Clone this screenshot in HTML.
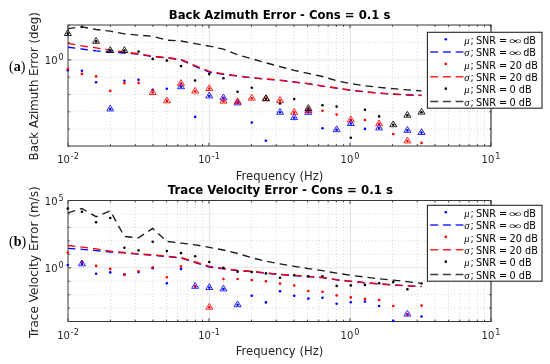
<!DOCTYPE html>
<html><head><meta charset="utf-8"><title>Error plots</title><style>
html,body{margin:0;padding:0;background:#fff;width:550px;height:364px;overflow:hidden}
svg{display:block}
.tk{font-family:"DejaVu Sans",sans-serif;font-size:10px;fill:#262626}
.sp{font-size:8.1px}
.lb{font-family:"DejaVu Sans",sans-serif;font-size:11.6px;fill:#262626}
.tt{font-family:"DejaVu Sans",sans-serif;font-size:11.6px;font-weight:bold;fill:#000}
.tag{font-family:"Liberation Serif",serif;font-size:14px;font-weight:bold;fill:#000}
.lg{font-family:"DejaVu Sans",sans-serif;font-size:9.7px;fill:#000}
.gr{font-family:"Liberation Serif",serif;font-style:italic;font-size:10.5px}
.inf{font-family:"Liberation Serif",serif}
</style></head><body>
<svg width="550" height="364" viewBox="0 0 550 364">
<rect width="550" height="364" fill="#fff"/>
<clipPath id="c1"><rect x="68.0" y="25.0" width="423.0" height="121.0"/></clipPath>
<path d="M110.45 25V146M135.27 25V146M152.89 25V146M166.55 25V146M177.72 25V146M187.16 25V146M195.34 25V146M202.55 25V146M251.45 25V146M276.27 25V146M293.89 25V146M307.55 25V146M318.72 25V146M328.16 25V146M336.34 25V146M343.55 25V146M392.45 25V146M417.27 25V146M434.89 25V146M448.55 25V146M459.72 25V146M469.16 25V146M477.34 25V146M484.55 25V146M68 129.1H491M68 111.8H491M68 94.5H491M68 77.2H491M68 42.6H491" stroke="#c4c4c4" stroke-width="0.8" stroke-dasharray="0.9 2.4" fill="none"/>
<path d="M209.3 25V146M350.5 25V146M68 59.9H491" stroke="#e0e0e0" stroke-width="0.9" fill="none"/>
<path d="M68 146v-3.2M68 25v3.2M209 146v-3.2M209 25v3.2M350 146v-3.2M350 25v3.2M491 146v-3.2M491 25v3.2M110.45 146v-1.8M110.45 25v1.8M135.27 146v-1.8M135.27 25v1.8M152.89 146v-1.8M152.89 25v1.8M166.55 146v-1.8M166.55 25v1.8M177.72 146v-1.8M177.72 25v1.8M187.16 146v-1.8M187.16 25v1.8M195.34 146v-1.8M195.34 25v1.8M202.55 146v-1.8M202.55 25v1.8M251.45 146v-1.8M251.45 25v1.8M276.27 146v-1.8M276.27 25v1.8M293.89 146v-1.8M293.89 25v1.8M307.55 146v-1.8M307.55 25v1.8M318.72 146v-1.8M318.72 25v1.8M328.16 146v-1.8M328.16 25v1.8M336.34 146v-1.8M336.34 25v1.8M343.55 146v-1.8M343.55 25v1.8M392.45 146v-1.8M392.45 25v1.8M417.27 146v-1.8M417.27 25v1.8M434.89 146v-1.8M434.89 25v1.8M448.55 146v-1.8M448.55 25v1.8M459.72 146v-1.8M459.72 25v1.8M469.16 146v-1.8M469.16 25v1.8M477.34 146v-1.8M477.34 25v1.8M484.55 146v-1.8M484.55 25v1.8M68 146.4h1.8M491 146.4h-1.8M68 129.1h1.8M491 129.1h-1.8M68 111.8h1.8M491 111.8h-1.8M68 94.5h1.8M491 94.5h-1.8M68 77.2h1.8M491 77.2h-1.8M68 59.9h3.2M491 59.9h-3.2M68 42.6h1.8M491 42.6h-1.8M68 25.3h1.8M491 25.3h-1.8" stroke="#262626" stroke-width="0.9" fill="none"/>
<path d="M68.0 25.0H491.0V146.0H68.0" fill="none" stroke="#383838" stroke-width="1.2"/>
<path d="M68.0 24.4V146.6" fill="none" stroke="#5a5a5a" stroke-width="1.2"/>
<g fill="#0000ff"><circle cx="67.8" cy="70.2" r="1.3"/><circle cx="81.95" cy="70.7" r="1.3"/><circle cx="96.1" cy="82.2" r="1.3"/><circle cx="110.25" cy="109" r="1.3"/><circle cx="124.4" cy="80.7" r="1.3"/><circle cx="138.55" cy="79.8" r="1.3"/><circle cx="152.7" cy="89.8" r="1.3"/><circle cx="166.85" cy="88.7" r="1.3"/><circle cx="181" cy="86.8" r="1.3"/><circle cx="195.15" cy="116.9" r="1.3"/><circle cx="209.3" cy="96" r="1.3"/><circle cx="223.45" cy="97.9" r="1.3"/><circle cx="237.6" cy="103" r="1.3"/><circle cx="251.75" cy="122.5" r="1.3"/><circle cx="265.9" cy="140.8" r="1.3"/><circle cx="280.05" cy="112.3" r="1.3"/><circle cx="294.2" cy="117.7" r="1.3"/><circle cx="308.35" cy="112.4" r="1.3"/><circle cx="322.5" cy="128.2" r="1.3"/><circle cx="336.65" cy="129.8" r="1.3"/><circle cx="350.8" cy="123.6" r="1.3"/><circle cx="364.95" cy="128.9" r="1.3"/><circle cx="379.1" cy="128" r="1.3"/><circle cx="407.4" cy="130.4" r="1.3"/><circle cx="421.55" cy="132.6" r="1.3"/></g>
<polyline clip-path="url(#c1)" points="67.8,47.2 81.95,49 96.1,50.9 110.25,52.1 124.4,53 138.55,54.2 152.7,56.6 166.85,57.9 181,59.9 195.15,66.4 209.3,72.1 223.45,74.3 237.6,76.1 251.75,77.9 265.9,79.1 280.05,80.4 294.2,82.1 308.35,83.8 322.5,86.2 336.65,88.2 350.8,90.3 364.95,91.9 379.1,93.3 393.25,94.2 407.4,95 421.55,95.5" fill="none" stroke="#0000ff" stroke-width="1.35" stroke-dasharray="7.6 5.1" stroke-dashoffset="0"/>
<g fill="#ff0000"><circle cx="67.8" cy="68.8" r="1.3"/><circle cx="81.95" cy="73.9" r="1.3"/><circle cx="96.1" cy="76.4" r="1.3"/><circle cx="110.25" cy="90.9" r="1.3"/><circle cx="124.4" cy="83.2" r="1.3"/><circle cx="138.55" cy="82.9" r="1.3"/><circle cx="152.7" cy="92.6" r="1.3"/><circle cx="166.85" cy="100.9" r="1.3"/><circle cx="181" cy="83.5" r="1.3"/><circle cx="195.15" cy="91.2" r="1.3"/><circle cx="209.3" cy="88.6" r="1.3"/><circle cx="223.45" cy="101.2" r="1.3"/><circle cx="237.6" cy="101.8" r="1.3"/><circle cx="251.75" cy="98.2" r="1.3"/><circle cx="265.9" cy="98.8" r="1.3"/><circle cx="280.05" cy="100.5" r="1.3"/><circle cx="294.2" cy="112.4" r="1.3"/><circle cx="308.35" cy="110.5" r="1.3"/><circle cx="322.5" cy="110.7" r="1.3"/><circle cx="336.65" cy="114.6" r="1.3"/><circle cx="350.8" cy="119.9" r="1.3"/><circle cx="364.95" cy="120" r="1.3"/><circle cx="379.1" cy="123.9" r="1.3"/><circle cx="393.25" cy="134.1" r="1.3"/><circle cx="407.4" cy="141" r="1.3"/><circle cx="421.55" cy="142.9" r="1.3"/></g>
<polyline clip-path="url(#c1)" points="67.8,43.3 81.95,45.9 96.1,47.9 110.25,50.2 124.4,52 138.55,53.8 152.7,56.2 166.85,57.6 181,59.4 195.15,65.7 209.3,71.4 223.45,73.9 237.6,75.8 251.75,77.7 265.9,78.9 280.05,80.2 294.2,81.9 308.35,83.6 322.5,86 336.65,88 350.8,90.1 364.95,91.7 379.1,93.1 393.25,94 407.4,94.8 421.55,95.3" fill="none" stroke="#ff0000" stroke-width="1.35" stroke-dasharray="7.6 5.1" stroke-dashoffset="0"/>
<g fill="#000000"><circle cx="67.8" cy="33.6" r="1.3"/><circle cx="81.95" cy="26.9" r="1.3"/><circle cx="96.1" cy="41.4" r="1.3"/><circle cx="110.25" cy="50.6" r="1.3"/><circle cx="124.4" cy="50.6" r="1.3"/><circle cx="138.55" cy="51.6" r="1.3"/><circle cx="152.7" cy="58.9" r="1.3"/><circle cx="166.85" cy="60.6" r="1.3"/><circle cx="181" cy="66.1" r="1.3"/><circle cx="195.15" cy="80.5" r="1.3"/><circle cx="209.3" cy="74.1" r="1.3"/><circle cx="223.45" cy="78.2" r="1.3"/><circle cx="237.6" cy="91.8" r="1.3"/><circle cx="251.75" cy="87.7" r="1.3"/><circle cx="265.9" cy="98.8" r="1.3"/><circle cx="280.05" cy="103.4" r="1.3"/><circle cx="294.2" cy="99.1" r="1.3"/><circle cx="308.35" cy="108.6" r="1.3"/><circle cx="322.5" cy="105.3" r="1.3"/><circle cx="336.65" cy="106.6" r="1.3"/><circle cx="350.8" cy="137.8" r="1.3"/><circle cx="364.95" cy="109.7" r="1.3"/><circle cx="379.1" cy="116.4" r="1.3"/><circle cx="393.25" cy="124.8" r="1.3"/><circle cx="407.4" cy="115.3" r="1.3"/><circle cx="421.55" cy="112.2" r="1.3"/></g>
<polyline clip-path="url(#c1)" points="67.8,28.6 81.95,26.9 96.1,29.5 110.25,31.2 124.4,33.9 138.55,35.1 152.7,36.3 166.85,40.2 181,41 195.15,43.6 209.3,46.1 223.45,49.2 237.6,54.8 251.75,58.7 265.9,62.8 280.05,66.6 294.2,70.3 308.35,73.4 322.5,76.5 336.65,80.8 350.8,83.6 364.95,85.8 379.1,87.3 393.25,88.7 407.4,89.9 421.55,90.9" fill="none" stroke="#1a1a1a" stroke-width="1.35" stroke-dasharray="7.6 5.1" stroke-dashoffset="0"/>
<path d="M110.25 105.1L106.75 110.9L113.75 110.9ZM181 82.9L177.5 88.7L184.5 88.7ZM209.3 92.1L205.8 97.9L212.8 97.9ZM223.45 94L219.95 99.8L226.95 99.8ZM237.6 99.1L234.1 104.9L241.1 104.9ZM280.05 108.4L276.55 114.2L283.55 114.2ZM294.2 113.8L290.7 119.6L297.7 119.6ZM308.35 108.5L304.85 114.3L311.85 114.3ZM336.65 125.9L333.15 131.7L340.15 131.7ZM350.8 119.7L347.3 125.5L354.3 125.5ZM379.1 124.1L375.6 129.9L382.6 129.9ZM407.4 126.5L403.9 132.3L410.9 132.3ZM421.55 128.7L418.05 134.5L425.05 134.5Z" fill="none" stroke="#0000ff" stroke-width="0.85"/>
<path d="M152.7 88.7L149.2 94.5L156.2 94.5ZM166.85 97L163.35 102.8L170.35 102.8ZM181 79.6L177.5 85.4L184.5 85.4ZM195.15 87.3L191.65 93.1L198.65 93.1ZM209.3 84.7L205.8 90.5L212.8 90.5ZM223.45 97.3L219.95 103.1L226.95 103.1ZM237.6 97.9L234.1 103.7L241.1 103.7ZM251.75 94.3L248.25 100.1L255.25 100.1ZM265.9 94.9L262.4 100.7L269.4 100.7ZM280.05 96.6L276.55 102.4L283.55 102.4ZM294.2 108.5L290.7 114.3L297.7 114.3ZM308.35 106.6L304.85 112.4L311.85 112.4ZM350.8 116L347.3 121.8L354.3 121.8ZM379.1 120L375.6 125.8L382.6 125.8ZM407.4 137.1L403.9 142.9L410.9 142.9Z" fill="none" stroke="#ff0000" stroke-width="0.85"/>
<path d="M67.8 29.7L64.3 35.5L71.3 35.5ZM96.1 37.5L92.6 43.3L99.6 43.3ZM110.25 46.7L106.75 52.5L113.75 52.5ZM124.4 46.7L120.9 52.5L127.9 52.5ZM265.9 94.9L262.4 100.7L269.4 100.7ZM308.35 104.7L304.85 110.5L311.85 110.5ZM393.25 120.9L389.75 126.7L396.75 126.7ZM407.4 111.4L403.9 117.2L410.9 117.2ZM421.55 108.3L418.05 114.1L425.05 114.1Z" fill="none" stroke="#000000" stroke-width="0.85"/>
<text x="68" y="163.4" class="tk" text-anchor="middle">10<tspan class="sp" dx="0.9" dy="-4.0">-2</tspan></text>
<text x="209" y="163.4" class="tk" text-anchor="middle">10<tspan class="sp" dx="0.9" dy="-4.0">-1</tspan></text>
<text x="350" y="163.4" class="tk" text-anchor="middle">10<tspan class="sp" dx="0.9" dy="-4.0">0</tspan></text>
<text x="491" y="163.4" class="tk" text-anchor="middle">10<tspan class="sp" dx="0.9" dy="-4.0">1</tspan></text>
<text x="63.6" y="64.1" class="tk" text-anchor="end">10<tspan class="sp" dx="0.9" dy="-4.0">0</tspan></text>
<text x="279.5" y="179.8" class="lb" text-anchor="middle" textLength="87.6" lengthAdjust="spacingAndGlyphs">Frequency (Hz)</text>
<text transform="translate(38.4 86.3) rotate(-90)" class="lb" text-anchor="middle" textLength="148.2" lengthAdjust="spacingAndGlyphs">Back Azimuth Error (deg)</text>
<text x="279.6" y="18.5" class="tt" text-anchor="middle" textLength="221.5" lengthAdjust="spacingAndGlyphs">Back Azimuth Error - Cons = 0.1 s</text>
<text x="9.1" y="71" class="tag"><tspan font-weight="normal">(</tspan>a<tspan font-weight="normal">)</tspan></text>
<rect x="427.4" y="32.3" width="114.6" height="75.9" fill="#fff" stroke="#262626" stroke-width="1.1"/>
<circle cx="445.8" cy="39.2" r="1.3" fill="#0000ff"/>
<text x="464.3" y="43.9" class="lg gr">μ</text>
<text x="470.6" y="43.9" class="lg">;</text>
<text x="475.9" y="43.9" class="lg">SNR =</text>
<text x="509" y="43.9" class="lg inf" textLength="12.6" lengthAdjust="spacingAndGlyphs">∞</text>
<text x="523.2" y="43.9" class="lg">dB</text>
<path d="M430.2 51.96H463.4" stroke="#0000ff" stroke-width="1.5" stroke-opacity="0.85" stroke-dasharray="8 4.7"/>
<text x="464.3" y="56.26" class="lg gr">σ</text>
<text x="470.6" y="56.26" class="lg">;</text>
<text x="475.9" y="56.26" class="lg">SNR =</text>
<text x="509" y="56.26" class="lg inf" textLength="12.6" lengthAdjust="spacingAndGlyphs">∞</text>
<text x="523.2" y="56.26" class="lg">dB</text>
<circle cx="445.8" cy="63.92" r="1.3" fill="#ff0000"/>
<text x="464.3" y="68.62" class="lg gr">μ</text>
<text x="470.6" y="68.62" class="lg">;</text>
<text x="475.9" y="68.62" class="lg">SNR =</text>
<text x="509.6" y="68.62" class="lg">20 dB</text>
<path d="M430.2 76.68H463.4" stroke="#ff0000" stroke-width="1.5" stroke-opacity="0.85" stroke-dasharray="8 4.7"/>
<text x="464.3" y="80.98" class="lg gr">σ</text>
<text x="470.6" y="80.98" class="lg">;</text>
<text x="475.9" y="80.98" class="lg">SNR =</text>
<text x="509.6" y="80.98" class="lg">20 dB</text>
<circle cx="445.8" cy="88.64" r="1.3" fill="#000000"/>
<text x="464.3" y="93.34" class="lg gr">μ</text>
<text x="470.6" y="93.34" class="lg">;</text>
<text x="475.9" y="93.34" class="lg">SNR =</text>
<text x="509.6" y="93.34" class="lg">0 dB</text>
<path d="M430.2 101.4H463.4" stroke="#1a1a1a" stroke-width="1.5" stroke-opacity="0.85" stroke-dasharray="8 4.7"/>
<text x="464.3" y="105.7" class="lg gr">σ</text>
<text x="470.6" y="105.7" class="lg">;</text>
<text x="475.9" y="105.7" class="lg">SNR =</text>
<text x="509.6" y="105.7" class="lg">0 dB</text>
<clipPath id="c2"><rect x="68.0" y="200.5" width="423.0" height="121.0"/></clipPath>
<path d="M110.45 200.5V321.5M135.27 200.5V321.5M152.89 200.5V321.5M166.55 200.5V321.5M177.72 200.5V321.5M187.16 200.5V321.5M195.34 200.5V321.5M202.55 200.5V321.5M251.45 200.5V321.5M276.27 200.5V321.5M293.89 200.5V321.5M307.55 200.5V321.5M318.72 200.5V321.5M328.16 200.5V321.5M336.34 200.5V321.5M343.55 200.5V321.5M392.45 200.5V321.5M417.27 200.5V321.5M434.89 200.5V321.5M448.55 200.5V321.5M459.72 200.5V321.5M469.16 200.5V321.5M477.34 200.5V321.5M484.55 200.5V321.5M68 308.15H491M68 294.7H491M68 281.25H491M68 254.35H491M68 240.9H491M68 227.45H491M68 214H491" stroke="#c4c4c4" stroke-width="0.8" stroke-dasharray="0.9 2.4" fill="none"/>
<path d="M209.3 200.5V321.5M350.5 200.5V321.5M68 267.8H491" stroke="#e0e0e0" stroke-width="0.9" fill="none"/>
<path d="M68 321.5v-3.2M68 200.5v3.2M209 321.5v-3.2M209 200.5v3.2M350 321.5v-3.2M350 200.5v3.2M491 321.5v-3.2M491 200.5v3.2M110.45 321.5v-1.8M110.45 200.5v1.8M135.27 321.5v-1.8M135.27 200.5v1.8M152.89 321.5v-1.8M152.89 200.5v1.8M166.55 321.5v-1.8M166.55 200.5v1.8M177.72 321.5v-1.8M177.72 200.5v1.8M187.16 321.5v-1.8M187.16 200.5v1.8M195.34 321.5v-1.8M195.34 200.5v1.8M202.55 321.5v-1.8M202.55 200.5v1.8M251.45 321.5v-1.8M251.45 200.5v1.8M276.27 321.5v-1.8M276.27 200.5v1.8M293.89 321.5v-1.8M293.89 200.5v1.8M307.55 321.5v-1.8M307.55 200.5v1.8M318.72 321.5v-1.8M318.72 200.5v1.8M328.16 321.5v-1.8M328.16 200.5v1.8M336.34 321.5v-1.8M336.34 200.5v1.8M343.55 321.5v-1.8M343.55 200.5v1.8M392.45 321.5v-1.8M392.45 200.5v1.8M417.27 321.5v-1.8M417.27 200.5v1.8M434.89 321.5v-1.8M434.89 200.5v1.8M448.55 321.5v-1.8M448.55 200.5v1.8M459.72 321.5v-1.8M459.72 200.5v1.8M469.16 321.5v-1.8M469.16 200.5v1.8M477.34 321.5v-1.8M477.34 200.5v1.8M484.55 321.5v-1.8M484.55 200.5v1.8M68 321.6h1.8M491 321.6h-1.8M68 308.15h1.8M491 308.15h-1.8M68 294.7h1.8M491 294.7h-1.8M68 281.25h1.8M491 281.25h-1.8M68 267.8h3.2M491 267.8h-3.2M68 254.35h1.8M491 254.35h-1.8M68 240.9h1.8M491 240.9h-1.8M68 227.45h1.8M491 227.45h-1.8M68 214h1.8M491 214h-1.8M68 200.55h3.2M491 200.55h-3.2" stroke="#262626" stroke-width="0.9" fill="none"/>
<path d="M68.0 200.5H491.0V321.5H68.0" fill="none" stroke="#383838" stroke-width="1.2"/>
<path d="M68.0 199.9V322.1" fill="none" stroke="#5a5a5a" stroke-width="1.2"/>
<g fill="#0000ff"><circle cx="67.8" cy="265" r="1.3"/><circle cx="81.95" cy="263.9" r="1.3"/><circle cx="96.1" cy="273.8" r="1.3"/><circle cx="110.25" cy="272.4" r="1.3"/><circle cx="124.4" cy="274.2" r="1.3"/><circle cx="138.55" cy="272.1" r="1.3"/><circle cx="152.7" cy="268.2" r="1.3"/><circle cx="166.85" cy="283.2" r="1.3"/><circle cx="181" cy="269" r="1.3"/><circle cx="195.15" cy="286.4" r="1.3"/><circle cx="209.3" cy="287.6" r="1.3"/><circle cx="223.45" cy="289" r="1.3"/><circle cx="237.6" cy="304.8" r="1.3"/><circle cx="251.75" cy="295.7" r="1.3"/><circle cx="265.9" cy="302.4" r="1.3"/><circle cx="280.05" cy="291.3" r="1.3"/><circle cx="294.2" cy="295.7" r="1.3"/><circle cx="308.35" cy="298.6" r="1.3"/><circle cx="322.5" cy="297.8" r="1.3"/><circle cx="336.65" cy="303.8" r="1.3"/><circle cx="350.8" cy="302.3" r="1.3"/><circle cx="364.95" cy="301.6" r="1.3"/><circle cx="379.1" cy="306" r="1.3"/><circle cx="393.25" cy="320.9" r="1.3"/><circle cx="407.4" cy="314.2" r="1.3"/><circle cx="421.55" cy="316.5" r="1.3"/></g>
<polyline clip-path="url(#c2)" points="67.8,248.3 81.95,249.3 96.1,250.7 110.25,252 124.4,252.9 138.55,254.2 152.7,255.2 166.85,256.6 181,258 195.15,262.6 209.3,267 223.45,268.9 237.6,270.6 251.75,271.6 265.9,273.2 280.05,274.6 294.2,275.6 308.35,276.6 322.5,277.7 336.65,279.9 350.8,281.4 364.95,282.8 379.1,284 393.25,285 407.4,285.9 421.55,286.6" fill="none" stroke="#0000ff" stroke-width="1.35" stroke-dasharray="7.6 5.1" stroke-dashoffset="0"/>
<g fill="#ff0000"><circle cx="67.8" cy="252.6" r="1.3"/><circle cx="81.95" cy="261.9" r="1.3"/><circle cx="96.1" cy="265.9" r="1.3"/><circle cx="110.25" cy="268.9" r="1.3"/><circle cx="124.4" cy="274.9" r="1.3"/><circle cx="138.55" cy="271.2" r="1.3"/><circle cx="152.7" cy="267.3" r="1.3"/><circle cx="166.85" cy="277.3" r="1.3"/><circle cx="181" cy="266.4" r="1.3"/><circle cx="195.15" cy="286.6" r="1.3"/><circle cx="209.3" cy="307.3" r="1.3"/><circle cx="223.45" cy="279" r="1.3"/><circle cx="237.6" cy="279" r="1.3"/><circle cx="251.75" cy="280.1" r="1.3"/><circle cx="265.9" cy="281.2" r="1.3"/><circle cx="280.05" cy="283.6" r="1.3"/><circle cx="294.2" cy="285.5" r="1.3"/><circle cx="308.35" cy="291" r="1.3"/><circle cx="322.5" cy="291.7" r="1.3"/><circle cx="336.65" cy="295.4" r="1.3"/><circle cx="350.8" cy="297.4" r="1.3"/><circle cx="364.95" cy="299.1" r="1.3"/><circle cx="379.1" cy="300.1" r="1.3"/><circle cx="393.25" cy="306" r="1.3"/><circle cx="407.4" cy="314.8" r="1.3"/><circle cx="421.55" cy="305.6" r="1.3"/></g>
<polyline clip-path="url(#c2)" points="67.8,245.5 81.95,247.1 96.1,248.9 110.25,251.1 124.4,252.5 138.55,253.9 152.7,254.9 166.85,256.2 181,257.6 195.15,262 209.3,266.4 223.45,268.5 237.6,270.3 251.75,271.3 265.9,272.9 280.05,274.4 294.2,275.4 308.35,276.4 322.5,277.5 336.65,279.7 350.8,281.2 364.95,282.6 379.1,283.8 393.25,284.8 407.4,285.7 421.55,286.4" fill="none" stroke="#ff0000" stroke-width="1.35" stroke-dasharray="7.6 5.1" stroke-dashoffset="0"/>
<g fill="#000000"><circle cx="67.8" cy="208.6" r="1.3"/><circle cx="81.95" cy="211.8" r="1.3"/><circle cx="96.1" cy="222.3" r="1.3"/><circle cx="110.25" cy="218" r="1.3"/><circle cx="124.4" cy="247.7" r="1.3"/><circle cx="138.55" cy="250.4" r="1.3"/><circle cx="152.7" cy="241.7" r="1.3"/><circle cx="166.85" cy="251.1" r="1.3"/><circle cx="181" cy="253.1" r="1.3"/><circle cx="195.15" cy="256.3" r="1.3"/><circle cx="209.3" cy="262" r="1.3"/><circle cx="223.45" cy="267.8" r="1.3"/><circle cx="237.6" cy="271.7" r="1.3"/><circle cx="251.75" cy="272" r="1.3"/><circle cx="265.9" cy="273.4" r="1.3"/><circle cx="280.05" cy="277.7" r="1.3"/><circle cx="294.2" cy="275.3" r="1.3"/><circle cx="308.35" cy="276.4" r="1.3"/><circle cx="322.5" cy="276.3" r="1.3"/><circle cx="336.65" cy="285.9" r="1.3"/><circle cx="350.8" cy="285.4" r="1.3"/><circle cx="364.95" cy="284.9" r="1.3"/><circle cx="379.1" cy="283.2" r="1.3"/><circle cx="393.25" cy="282.1" r="1.3"/><circle cx="407.4" cy="289.3" r="1.3"/><circle cx="421.55" cy="283.5" r="1.3"/></g>
<polyline clip-path="url(#c2)" points="67.8,212.9 81.95,208.5 96.1,216.7 110.25,210.9 124.4,236.5 138.55,237.8 152.7,228.4 166.85,241.4 181,243.1 195.15,244.8 209.3,247.4 223.45,250 237.6,253.5 251.75,257.8 265.9,261.2 280.05,263.8 294.2,266.3 308.35,268.6 322.5,270.7 336.65,273.2 350.8,275.3 364.95,277.1 379.1,278.8 393.25,280.2 407.4,281.7 421.55,283.3" fill="none" stroke="#1a1a1a" stroke-width="1.35" stroke-dasharray="7.6 5.1" stroke-dashoffset="0"/>
<path d="M81.95 260L78.45 265.8L85.45 265.8ZM195.15 282.5L191.65 288.3L198.65 288.3ZM209.3 283.7L205.8 289.5L212.8 289.5ZM223.45 285.1L219.95 290.9L226.95 290.9ZM237.6 300.9L234.1 306.7L241.1 306.7ZM407.4 310.3L403.9 316.1L410.9 316.1Z" fill="none" stroke="#0000ff" stroke-width="0.85"/>
<path d="M209.3 303.4L205.8 309.2L212.8 309.2Z" fill="none" stroke="#ff0000" stroke-width="0.85"/>
<text x="68" y="338.9" class="tk" text-anchor="middle">10<tspan class="sp" dx="0.9" dy="-4.0">-2</tspan></text>
<text x="209" y="338.9" class="tk" text-anchor="middle">10<tspan class="sp" dx="0.9" dy="-4.0">-1</tspan></text>
<text x="350" y="338.9" class="tk" text-anchor="middle">10<tspan class="sp" dx="0.9" dy="-4.0">0</tspan></text>
<text x="491" y="338.9" class="tk" text-anchor="middle">10<tspan class="sp" dx="0.9" dy="-4.0">1</tspan></text>
<text x="63.6" y="272" class="tk" text-anchor="end">10<tspan class="sp" dx="0.9" dy="-4.0">0</tspan></text>
<text x="63.6" y="204.75" class="tk" text-anchor="end">10<tspan class="sp" dx="0.9" dy="-4.0">5</tspan></text>
<text x="279.5" y="355.3" class="lb" text-anchor="middle" textLength="87.6" lengthAdjust="spacingAndGlyphs">Frequency (Hz)</text>
<text transform="translate(38.4 262.2) rotate(-90)" class="lb" text-anchor="middle" textLength="151.8" lengthAdjust="spacingAndGlyphs">Trace Velocity Error (m/s)</text>
<text x="280.4" y="194" class="tt" text-anchor="middle" textLength="225.2" lengthAdjust="spacingAndGlyphs">Trace Velocity Error - Cons = 0.1 s</text>
<text x="9.1" y="245.6" class="tag"><tspan font-weight="normal">(</tspan>b<tspan font-weight="normal">)</tspan></text>
<rect x="427.4" y="205.3" width="114.6" height="75.9" fill="#fff" stroke="#262626" stroke-width="1.1"/>
<circle cx="445.8" cy="212.2" r="1.3" fill="#0000ff"/>
<text x="464.3" y="216.9" class="lg gr">μ</text>
<text x="470.6" y="216.9" class="lg">;</text>
<text x="475.9" y="216.9" class="lg">SNR =</text>
<text x="509" y="216.9" class="lg inf" textLength="12.6" lengthAdjust="spacingAndGlyphs">∞</text>
<text x="523.2" y="216.9" class="lg">dB</text>
<path d="M430.2 224.96H463.4" stroke="#0000ff" stroke-width="1.5" stroke-opacity="0.85" stroke-dasharray="8 4.7"/>
<text x="464.3" y="229.26" class="lg gr">σ</text>
<text x="470.6" y="229.26" class="lg">;</text>
<text x="475.9" y="229.26" class="lg">SNR =</text>
<text x="509" y="229.26" class="lg inf" textLength="12.6" lengthAdjust="spacingAndGlyphs">∞</text>
<text x="523.2" y="229.26" class="lg">dB</text>
<circle cx="445.8" cy="236.92" r="1.3" fill="#ff0000"/>
<text x="464.3" y="241.62" class="lg gr">μ</text>
<text x="470.6" y="241.62" class="lg">;</text>
<text x="475.9" y="241.62" class="lg">SNR =</text>
<text x="509.6" y="241.62" class="lg">20 dB</text>
<path d="M430.2 249.68H463.4" stroke="#ff0000" stroke-width="1.5" stroke-opacity="0.85" stroke-dasharray="8 4.7"/>
<text x="464.3" y="253.98" class="lg gr">σ</text>
<text x="470.6" y="253.98" class="lg">;</text>
<text x="475.9" y="253.98" class="lg">SNR =</text>
<text x="509.6" y="253.98" class="lg">20 dB</text>
<circle cx="445.8" cy="261.64" r="1.3" fill="#000000"/>
<text x="464.3" y="266.34" class="lg gr">μ</text>
<text x="470.6" y="266.34" class="lg">;</text>
<text x="475.9" y="266.34" class="lg">SNR =</text>
<text x="509.6" y="266.34" class="lg">0 dB</text>
<path d="M430.2 274.4H463.4" stroke="#1a1a1a" stroke-width="1.5" stroke-opacity="0.85" stroke-dasharray="8 4.7"/>
<text x="464.3" y="278.7" class="lg gr">σ</text>
<text x="470.6" y="278.7" class="lg">;</text>
<text x="475.9" y="278.7" class="lg">SNR =</text>
<text x="509.6" y="278.7" class="lg">0 dB</text>
</svg>
</body></html>
